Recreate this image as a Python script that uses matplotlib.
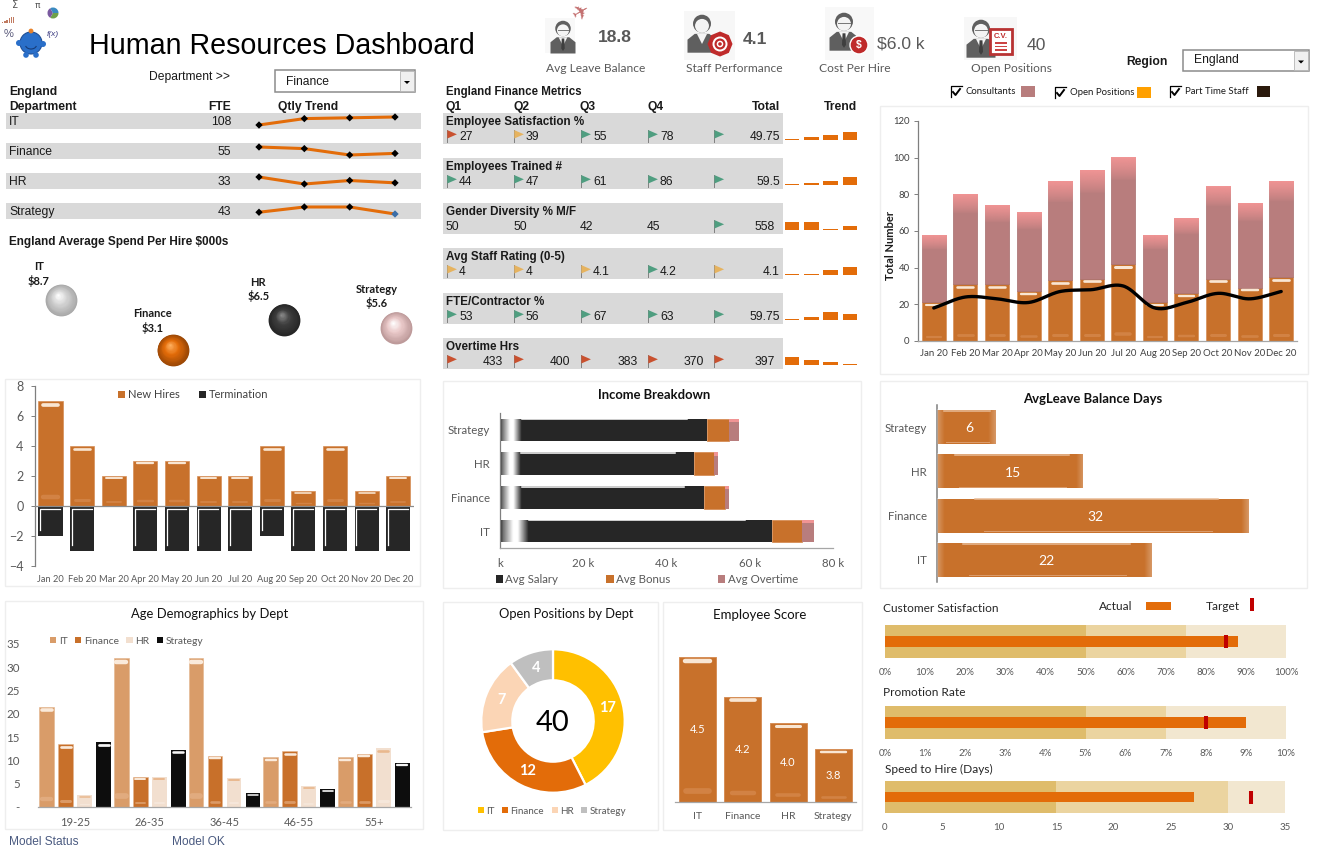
import numpy as np
import matplotlib
matplotlib.use("Agg")
import matplotlib.pyplot as plt
from matplotlib.patches import Rectangle, Circle, Polygon, Wedge, RegularPolygon, Arc
from matplotlib.transforms import Affine2D
from matplotlib.colors import to_rgb

# ---------------- data ----------------
months = ["Jan 20","Feb 20","Mar 20","Apr 20","May 20","Jun 20","Jul 20","Aug 20","Sep 20","Oct 20","Nov 20","Dec 20"]
open_positions = [21,31,31,27,33,34,42,21,26,34,29,35]
consultants = [37,49,43,43,54,59,58,37,41,50,46,52]
part_time = [18,24,23,21,27,28,30,18,21,26,23,27]
new_hires = [7,4,2,3,3,2,2,4,1,4,1,2]
terminations = [-2,-3,0,-3,-3,-3,-3,-2,-3,-3,-3,-3]

depts = ["IT","Finance","HR","Strategy"]
fte = [108,55,33,43]
qtly_trend = [[100,108,109,110],[60,58,50,52],[38,32,35,33],[42,45,45,41]]
spend = [8.7,3.1,6.5,5.6]

metric_names = ["Employee Satisfaction %","Employees Trained #","Gender Diversity % M/F","Avg Staff Rating (0-5)","FTE/Contractor %","Overtime Hrs"]
metric_q = [[27,39,55,78],[44,47,61,86],[50,50,42,45],[4,4,4.1,4.2],[53,56,67,63],[433,400,383,370]]
metric_total = ["49.75","59.5","558","4.1","59.75","397"]
metric_flags = ["RAGGG","GGGGG","....G","AAAGA","GGGGG","RRRRR"]

salary = [65.5,49,46.7,49.8]
bonus = [7,5,4.7,5.3]
overtime = [3.1,1,1,2.4]
leave_days = [22,32,15,6]
age_groups = ["19-25","26-35","36-45","46-55","55+"]
age_it = [21.5,32,32,10.7,10.7]
age_fin = [13.5,6.4,11,12,11.4]
age_hr = [2.5,6.5,6.2,4.5,12.7]
age_str = [14,12.3,3,3.9,9.5]
open_by_dept = [17,12,7,4]
score = [4.5,4.2,4.0,3.8]

bullet_titles = ["Customer Satisfaction","Promotion Rate","Speed to Hire (Days)"]
bullet_bands = [[50,75,100],[5,7,10],[15,30,35]]
bullet_actual = [88,9,27]
bullet_target = [85,8,32]

# ---------------- style ----------------
W, H = 1318, 848
SHEET = "Liberation Sans"
CHART = "Lato"
ORANGE = "#c8712b"
ORANGE_EDGE = "#d68e57"
ROSE = "#b87d7d"
DARK = "#262626"
GREY = "#595959"
BAND = "#d9d9d9"
PANEL = "#eeeeee"

fig = plt.figure(figsize=(W/100, H/100), dpi=100, facecolor="white")
ax0 = fig.add_axes([0,0,1,1], zorder=0)
ax0.set_xlim(0,W); ax0.set_ylim(H,0); ax0.axis("off")

def axpx(x0, y0, x1, y1):
    a = fig.add_axes([x0/W, 1-y1/H, (x1-x0)/W, (y1-y0)/H], zorder=2)
    a.patch.set_visible(False)
    return a

def T(x, y, s, size=8.7, ha="left", va="center", color="#1a1a1a", weight="normal", family=SHEET, **k):
    dy = 2 if family==SHEET else 1
    return ax0.text(x, y+dy, s, fontsize=size, ha=ha, va=va, color=color, fontweight=weight, family=family, **k)

def rect(x0,y0,x1,y1,fc="none",ec="none",lw=1,z=1):
    ax0.add_patch(Rectangle((x0,y0),x1-x0,y1-y0,fc=fc,ec=ec,lw=lw,zorder=z))

def clean(a, left=False, bottom=False):
    for s in ["top","right","left","bottom"]:
        a.spines[s].set_visible(False)
    if left:
        a.spines["left"].set_visible(True); a.spines["left"].set_color("#7f7f7f"); a.spines["left"].set_linewidth(0.9)
    if bottom:
        a.spines["bottom"].set_visible(True); a.spines["bottom"].set_color("#a6a6a6"); a.spines["bottom"].set_linewidth(0.9)

def mk_legend(a, colors, labels, x, y, size=8, spacing=1.0, color=GREY, pad=0.5):
    hs = [Rectangle((0,0),1,1,fc=c,ec="none") for c in colors]
    leg = a.legend(hs, labels, loc="center left", bbox_to_anchor=(x,y), bbox_transform=ax0.transData,
                   ncol=len(labels), frameon=False, borderpad=0, borderaxespad=0, handlelength=0.62,
                   handleheight=0.62, handletextpad=pad, columnspacing=spacing,
                   prop={"family":CHART,"size":size})
    for t in leg.get_texts():
        t.set_color(color)
    return leg

def vgloss(a, xs, tops, bottoms, w, px_per_unit, hi="#f9e6d3", lo="#d98f55"):
    """bevel highlights on upright bars, sized from each bar's height"""
    for x,t,b in zip(xs,tops,bottoms):
        hp = abs(t-b)*px_per_unit
        if hp < 3: continue
        off = (1.5+min(hp,140)/50)/px_per_unit
        lw = 0.9+min(hp,140)/60
        a.plot([x-w*0.33,x+w*0.33],[t-off,t-off],color=hi,lw=lw,solid_capstyle="round",zorder=5)
        off2 = (2+min(hp,140)/16)/px_per_unit
        a.plot([x-w*0.3,x+w*0.3],[b+off2,b+off2],color=lo,lw=0.6+min(hp,140)/40,alpha=.6,solid_capstyle="round",zorder=5)

def catmull(xs, ys, n=24):
    xs=np.array(xs,float); ys=np.array(ys,float)
    P=np.column_stack([xs,ys])
    P=np.vstack([2*P[0]-P[1],P,2*P[-1]-P[-2]])
    out=[]
    for i in range(1,len(P)-2):
        for t in np.linspace(0,1,n,endpoint=False):
            p=0.5*((2*P[i])+(-P[i-1]+P[i+1])*t+(2*P[i-1]-5*P[i]+4*P[i+1]-P[i+2])*t*t+(-P[i-1]+3*P[i]-3*P[i+1]+P[i+2])*t**3)
            out.append(p)
    out.append(P[-2])
    return np.array(out)

# ---------------- header ----------------
T(89,43.5,"Human Resources Dashboard",size=20.65,color="#000000")

# logo
ax0.add_patch(Circle((31,43),11,fc="#2a6fc9",ec="#1f4f96",lw=.8,zorder=2))
ax0.add_patch(Circle((31,31),2.4,fc="#e8822a",ec="none",zorder=2))
ax0.add_patch(Arc((31,45),11,8,theta1=10,theta2=170,color="#173c78",lw=.8,zorder=3))
for x,y in [(19,43),(43,44)]:
    ax0.add_patch(Circle((x,y),3,fc="#2a6fc9",ec="none",zorder=2))
for x in (26,36):
    ax0.add_patch(Circle((x,55),2.8,fc="#2a6fc9",ec="none",zorder=2))
T(15,4,"Σ",size=7,ha="center",color="#555555",family="DejaVu Sans")
T(37,4,"π",size=6.5,ha="center",color="#555555",family="DejaVu Sans")
T(9,32,"%",size=8,ha="center",color="#555577")
T(53,33,"f(x)",size=6,ha="center",color="#3a3a80",style="italic")
for i,(v,c) in enumerate(zip([120,120,120],["#6fa04a","#7a5aa0","#3a8ac0"])):
    ax0.add_patch(Wedge((53,13),5.5,i*120,i*120+v,fc=c,ec="none",zorder=2))
for i,h in enumerate([1,2,3,5,6,6]):
    rect(2+i*2.2,23-h,3.4+i*2.2,23,fc="#c07a60",z=2)

def person(cx, top, female=False, s=1.0):
    c = "#5f5f5f"
    ax0.add_patch(Polygon([(cx-10*s,top+26*s),(cx-10*s,top+17*s),(cx-5*s,top+13*s),(cx+5*s,top+13*s),(cx+10*s,top+17*s),(cx+10*s,top+26*s)],fc=c,ec="none",zorder=3))
    ax0.add_patch(Circle((cx,top+6*s),6.2*s,fc="#5f5f5f",ec="none",zorder=3))
    ax0.add_patch(Circle((cx,top+7.5*s),4.8*s,fc="#f4f4f4",ec="none",zorder=4))
    ax0.add_patch(Polygon([(cx-3.5*s,top+13*s),(cx+3.5*s,top+13*s),(cx,top+20*s)],fc="#f4f4f4",ec="none",zorder=4))
    if not female:
        ax0.add_patch(Polygon([(cx-1*s,top+14*s),(cx+1*s,top+14*s),(cx+1.4*s,top+22*s),(cx,top+24*s),(cx-1.4*s,top+22*s)],fc="#3f3f3f",ec="none",zorder=5))
        ax0.plot([cx-4*s,cx+4*s],[top+7*s,top+7*s],color="#777777",lw=.7,zorder=5)

RED = "#bf2a2a"
rect(545,18,575,53,fc="#f8f8f8"); person(563,21,s=1.25)
T(582,12,"✈",size=15,ha="center",color="#c47070",family="DejaVu Sans",rotation=30)
rect(684,11,735,60,fc="#f7f7f7"); person(702,15,female=True,s=1.45)
ax0.add_patch(RegularPolygon((720,44),8,radius=12.5,fc=RED,ec="none",zorder=6))
ax0.add_patch(Circle((720,44),7.5,fc="white",ec="none",zorder=7))
ax0.add_patch(Circle((720,44),5.5,fc=RED,ec="none",zorder=8))
ax0.add_patch(Circle((720,44),3.3,fc="white",ec="none",zorder=9))
ax0.add_patch(Circle((720,44),1.8,fc=RED,ec="none",zorder=10))
rect(825,7,874,60,fc="#f8f8f8"); person(844,13,s=1.45)
ax0.add_patch(Circle((859,45),9,fc=RED,ec="white",lw=1,zorder=6))
T(859,43,"$",size=7.5,ha="center",color="white",weight="bold",zorder=7)
rect(964,17,1017,60,fc="#f7f7f7"); person(981,20,s=1.45)
rect(990,29,1012,54,fc="white",ec="#b83232",lw=2,z=6)
T(1001,34,"C.V.",size=5.5,ha="center",color=RED,weight="bold",zorder=7)
for y in (43,46.5,50):
    rect(995,y-1,1007,y+.6,fc="#c44",z=7)

T(615,35,"18.8",size=12.6,ha="center",color=GREY,weight="bold")
T(754.5,37,"4.1",size=12.6,ha="center",color=GREY,weight="bold")
T(901,42,"$6.0 k",size=12.6,ha="center",color=GREY)
T(1036,43,"40",size=12.6,ha="center",color=GREY)
for x,s in [(596,"Avg Leave Balance"),(734,"Staff Performance"),(855,"Cost Per Hire"),(1011,"Open Positions")]:
    T(x,67,s,size=8.65,ha="center",color=GREY,family=CHART)

def dropdown(x0,y0,x1,y1,s,txt_x,txt_y):
    rect(x0,y0,x1,y1,fc="white",ec="#8c8c8c",lw=1.1)
    rect(x1-15,y0+1,x1-1,y1-1,fc="#f0f0f0",ec="#b5b5b5",lw=.6)
    ax0.add_patch(Polygon([(x1-11,y0+(y1-y0)/2),(x1-5,y0+(y1-y0)/2),(x1-8,y0+(y1-y0)/2+3)],fc="black",ec="none",zorder=3))
    T(txt_x,txt_y,s,size=8.7)

T(149,75,"Department >>",size=8.7)
dropdown(275,70,415,92,"Finance",286,80)
T(1126,60,"Region",size=8.7,weight="bold")
dropdown(1183,50,1309,71,"England",1194,57.5)

def check(x,y,label,tx,sw0,sw1,color):
    ax0.plot([x,x,x+11],[y+11,y,y],color="black",lw=.9)
    ax0.plot([x+2,x+4.5,x+9],[y+6,y+9,y+3],color="black",lw=1.4)
    T(tx,y+4.5,label,size=6.9,family=CHART,color="#1a1a1a")
    rect(sw0,y,sw1,y+11,fc=color)
check(951,86,"Consultants",966,1021,1035,ROSE)
check(1055,87,"Open Positions",1070,1137,1151,"#ffa000")
check(1170,86,"Part Time Staff",1185,1257,1270,"#2b1a0d")

# ---------------- department table ----------------
T(9,90,"England",weight="bold")
T(9,105,"Department",weight="bold")
T(231,105,"FTE",ha="right",weight="bold")
T(278,105,"Qtly Trend",weight="bold")
row_y = [113,143,173,203]
spark_span = [(117,125),(147,155),(177,184),(207,214)]
for y,d,f,v,(pt,pb) in zip(row_y,depts,fte,qtly_trend,spark_span):
    rect(6,y,421,y+16,fc=BAND)
    T(9,y+7,d); T(231,y+7,str(f),ha="right")
    a = axpx(259,pt,395,pb); a.axis("off")
    a.set_xlim(0,3); a.set_ylim(min(v),max(v))
    a.plot(range(4),v,color="#e36c09",lw=2.2,clip_on=False,zorder=2)
    cols = ["black"]*4
    if d=="Strategy": cols[-1]="#3a6ea8"
    a.scatter(range(4),v,s=14,c=cols,marker="D",clip_on=False,zorder=3,linewidths=0)

T(9,240,"England Average Spend Per Hire $000s",weight="bold",size=8.5)
ab = axpx(61,300,396,350); ab.axis("off")
ab.set_xlim(0,3); ab.set_ylim(3.1,8.7)
shades = [("#a8a8a8","#d4d4d4","#ffffff"),("#9a4705","#e36c09","#ffb060"),("#262626","#3f3f3f","#8a8a8a"),("#bd9a9a","#ebcaca","#ffffff")]
for i,(v,(c0,c1,c2)) in enumerate(zip(spend,shades)):
    N=26
    for k in range(N):
        t=k/(N-1)
        col = np.array(to_rgb(c0))*(1-t/.55)+np.array(to_rgb(c1))*(t/.55) if t<.55 else np.array(to_rgb(c1))*(1-(t-.55)/.45)+np.array(to_rgb(c2))*((t-.55)/.45)
        tr = ab.transData+Affine2D().translate(-3*t,5*t)
        ab.scatter([i],[v],s=525*(1-t*0.97)**2,color=[col],linewidths=0,clip_on=False,transform=tr,zorder=3+k)
    off=[(-22,26),(-20,29),(-26,30),(-19,31)][i]
    ab.annotate(f"{depts[i]}\n${v}",(i,v),xytext=off,textcoords="offset pixels",ha="center",va="center",
                fontsize=8,family=CHART,fontweight="bold",color="#1a1a1a",linespacing=1.25,annotation_clip=False,zorder=40)

# ---------------- metrics table ----------------
T(446,90,"England Finance Metrics",weight="bold",size=8.3)
for x,s in zip([446,513,580,647],["Q1","Q2","Q3","Q4"]):
    T(x,105,s,weight="bold")
T(780,105,"Total",ha="right",weight="bold")
T(857,105,"Trend",ha="right",weight="bold")
flag_col = {"R":"#c9512f","A":"#e6b35f","G":"#4f9e80"}
flag_x = [447.3,514.3,581.3,648.3,714.5]
val_x = [459,526,593,660]
right_x = [503,570,638,704]
for r,(name,qs,tot,fl) in enumerate(zip(metric_names,metric_q,metric_total,metric_flags)):
    y0 = 113+45*r
    rect(443,y0,783,y0+31,fc=BAND)
    T(446,y0+7,name,weight="bold",size=8.4)
    for j,q in enumerate(qs):
        s = str(q)
        if fl[j]==".":
            T(446+67*j,y0+22,s)
        elif name=="Overtime Hrs":
            T(right_x[j],y0+22,s,ha="right")
        else:
            T(val_x[j],y0+22,s)
    for j,f in enumerate(fl):
        if f==".": continue
        x=flag_x[j]; yc=y0+21.3
        ax0.plot([x-.7,x-.7],[yc-4,yc+7.2],color="#808080",lw=.7,zorder=3)
        ax0.add_patch(Polygon([(x,yc-4.2),(x+9.6,yc),(x,yc+4.2)],fc=flag_col[f],ec="none",zorder=3))
    T(780 if "." in tot else 775,y0+22,tot,ha="right")
    # column sparkline
    a = axpx(787,y0+18.7,855,y0+26.7); a.axis("off")
    vmin,vmax=min(qs),max(qs); floor = vmin-(vmax-vmin)/7
    a.set_xlim(-.27,3.27); a.set_ylim(floor,vmax)
    a.bar(range(4),np.array(qs)-floor,bottom=floor,width=.74,color="#e36c09",clip_on=False)

# ---------------- panels ----------------
for x0,y0,x1,y1 in [(880,106,1308,374),(5,379,420,586),(443,381,861,588),(880,381,1307,588),
                    (5,601,423,829),(443,602,658,830),(663,602,862,830)]:
    rect(x0,y0,x1,y1,fc="white",ec=PANEL,lw=1)

# ---------------- stacked monthly chart ----------------
a = axpx(918,121,1297,341); clean(a,left=True,bottom=True)
x = np.arange(12); w=.76
a.bar(x,open_positions,width=w,color=ORANGE,edgecolor=ORANGE_EDGE,lw=.5,zorder=2)
a.bar(x,consultants,bottom=open_positions,width=w,color=ROSE,edgecolor="#a56c6c",lw=.5,zorder=2)
totals = np.array(open_positions)+np.array(consultants)
pink = np.array(to_rgb("#f09494"))
for xi,t,c in zip(x,totals,consultants):
    g = np.zeros((30,1,4)); g[...,:3]=pink; g[:,0,3]=np.linspace(1,0,30)**.8
    a.imshow(g,extent=[xi-w/2,xi+w/2,t-c*.22,t],aspect="auto",zorder=3)
vgloss(a,x,open_positions,[0]*12,w,220/120)
cv = catmull(x,part_time)
a.plot(cv[:,0],cv[:,1],color="black",lw=2.4,zorder=6,solid_capstyle="round")
a.set_xlim(-.5,11.5); a.set_ylim(0,120)
a.set_yticks(range(0,121,20))
a.set_xticks(x); a.set_xticklabels(months)
a.tick_params(axis="y",length=3,width=.7,color="#7f7f7f",labelsize=6.9,labelcolor="#404040",pad=3)
a.tick_params(axis="x",length=0,labelsize=6.9,labelcolor="#404040",pad=6)
for l in a.get_xticklabels()+a.get_yticklabels(): l.set_family(CHART)
a.set_ylabel("Total Number",fontsize=8,family=CHART,fontweight="bold",color="#1a1a1a")
a.yaxis.set_label_coords((896-918)/379,(341-246)/220)

# ---------------- hires chart ----------------
a = axpx(34.7,386,414,566); clean(a,left=True)
a.bar(x,new_hires,width=w,color=ORANGE,edgecolor=ORANGE_EDGE,lw=.5,zorder=2)
a.bar(x,terminations,width=w,color=DARK,zorder=2)
vgloss(a,x,new_hires,[0]*12,w,15)
for xi,t in zip(x,terminations):
    if t==0: continue
    a.plot([xi-w/2+.06,xi-w/2+.06,xi+w/2-.08],[t+.4,-.22,-.22],color="white",lw=.9,zorder=4,solid_joinstyle="round")
a.axhline(0,color="#8c8c8c",lw=.9,zorder=5)
a.set_xlim(-.5,11.5); a.set_ylim(-4,8)
a.set_yticks(range(-4,9,2))
a.set_yticklabels(["\u2212"+str(-v) if v<0 else str(v) for v in range(-4,9,2)])
a.set_xticks(x); a.set_xticklabels(months)
a.tick_params(axis="y",length=3,width=.7,color="#7f7f7f",labelsize=9,labelcolor=GREY,pad=5)
a.tick_params(axis="x",length=0,labelsize=6.7,labelcolor=GREY,pad=6.5)
for l in a.get_xticklabels()+a.get_yticklabels(): l.set_family(CHART)
mk_legend(a,[ORANGE,DARK],["New Hires","Termination"],118,395,size=8,spacing=1.75,color="#404040",pad=.25)

# ---------------- income chart ----------------
a = axpx(500.3,413,832.7,548); clean(a,left=True,bottom=True)
y=np.arange(4); h=.66
a.barh(y,salary,height=h,color=DARK,zorder=2)
a.barh(y,bonus,left=salary,height=h,color=ORANGE,edgecolor=ORANGE_EDGE,lw=.6,zorder=2)
a.barh(y,overtime,left=np.array(salary)+np.array(bonus),height=h,color=ROSE,zorder=2)
left2 = np.array(salary)+np.array(bonus)
for yi,s,l2,o in zip(y,salary,left2,overtime):
    ramp = np.interp(np.linspace(0,1,40),[0,.1,.45,.62,1],[.0,.35,1,1,0])
    g=np.ones((1,40,4)); g[0,:,3]=ramp
    a.imshow(g,extent=[0,s*.105,yi-h/2,yi+h/2],aspect="auto",zorder=3)
    a.plot([s*.105,s*.9],[yi+h/2-.015]*2,color="#ffffff",lw=1.1,zorder=3)
    a.barh(yi+h/2-.045,o,left=l2,height=.09,color="#f09494",zorder=3)
a.set_xlim(0,80); a.set_ylim(-.5,3.5)
a.set_xticks([0,20,40,60,80]); a.set_xticklabels(["k","20 k","40 k","60 k","80 k"])
a.set_yticks(y); a.set_yticklabels(depts)
a.tick_params(axis="both",length=0,labelsize=8.3,labelcolor=GREY)
a.tick_params(axis="x",pad=7); a.tick_params(axis="y",pad=7.4)
for l in a.get_xticklabels()+a.get_yticklabels(): l.set_family(CHART)
T(654,394,"Income Breakdown",size=9.4,ha="center",weight="bold",family=CHART,color="#111111")
mk_legend(a,[DARK,ORANGE,ROSE],["Avg Salary","Avg Bonus","Avg Overtime"],496,579.5,size=8.3,spacing=4.17,pad=.2)

# ---------------- leave chart ----------------
a = axpx(937.3,405,1329,582); clean(a,left=True); a.spines["left"].set_linewidth(1.1)
h=.77
a.barh(y,leave_days,height=h,color=ORANGE,zorder=2)
for yi,v in zip(y,leave_days):
    g=np.zeros((1,20,4)); g[...,:3]=1; g[0,:,3]=np.linspace(.28,0,20)
    e=.8
    a.imshow(g,extent=[0,e,yi-h/2,yi+h/2],aspect="auto",zorder=3)
    a.imshow(g[:,::-1],extent=[v-e,v,yi-h/2,yi+h/2],aspect="auto",zorder=3)
    a.plot([v*.12,v*.9],[yi+h/2-.02]*2,color="#e8bb96",lw=1.1,zorder=4)
    a.plot([v*.15,v*.88],[yi-h/2+.04]*2,color="#e3b08a",lw=.7,alpha=.7,zorder=4)
    a.text(v/2+.25,yi-.03,str(v),color="white",fontsize=10,family=CHART,ha="center",va="center",zorder=6)
a.set_xlim(0,392/9.75); a.set_ylim(-.5,3.5)
a.set_xticks([]); a.set_yticks(y); a.set_yticklabels(depts)
a.tick_params(axis="y",length=0,labelsize=8.3,labelcolor=GREY,pad=7.4)
for l in a.get_yticklabels(): l.set_family(CHART)
T(1093,398,"AvgLeave Balance Days",size=9.45,ha="center",weight="bold",family=CHART,color="#111111")

# ---------------- age chart ----------------
a = axpx(38,644,411,807); clean(a,bottom=True)
g_x=np.arange(5); step=.2545; bw=.2
series=[(age_it,"#d99c69"),(age_fin,"#c8702a"),(age_hr,"#f2dfcf"),(age_str,"#0d0d0d")]
for i,(v,c) in enumerate(series):
    px=g_x+(i-1.5)*step
    a.bar(px,v,width=bw,color=c,zorder=2+i*0.01,edgecolor=("#e3b48d" if i<2 else None),lw=.4 if i<2 else 0)
    hi={"#0d0d0d":"#f5f5f5","#f2dfcf":"#e9b88e"}.get(c,"#faeadb")
    lo={"#0d0d0d":"#0d0d0d","#f2dfcf":"#f8ede3"}.get(c,"#e8b68e")
    vgloss(a,px,v,[0]*5,bw,163/35,hi=hi,lo=lo)
a.set_xlim(-.5,4.5); a.set_ylim(0,35)
a.set_yticks(range(0,36,5)); a.set_yticklabels(["-"]+[str(k) for k in range(5,36,5)])
a.set_xticks(g_x); a.set_xticklabels(age_groups)
a.tick_params(axis="y",length=0,labelsize=8.3,labelcolor=GREY,pad=13)
a.tick_params(axis="x",length=0,labelsize=8,labelcolor=GREY,pad=7)
for l in a.get_xticklabels()+a.get_yticklabels(): l.set_family(CHART)
T(210,612.5,"Age Demographics by Dept",size=9.35,ha="center",family=CHART,color="#111111")
mk_legend(a,[c for _,c in series],depts,50,641,size=7.4,spacing=.72,pad=.25)

# ---------------- donut ----------------
r=71.7
a = axpx(553-r,721-r,553+r,721+r); a.axis("off")
cols=["#ffc000","#e36c09","#fbd5b5","#bfbfbf"]
a.pie(open_by_dept,colors=cols,startangle=90,counterclock=False,radius=1,
      wedgeprops=dict(width=1-40.7/71.7,edgecolor="white",linewidth=1.6),
      autopct=lambda p:"%d"%round(p*sum(open_by_dept)/100),pctdistance=.78,
      textprops=dict(color="white",fontsize=10.5,fontweight="bold",family=CHART))
a.set_xlim(-1,1); a.set_ylim(-1,1)
a.text(0,-.03,"40",fontsize=21,family=CHART,ha="center",va="center",color="black")
T(566,613,"Open Positions by Dept",size=9.3,ha="center",family=CHART,color="#111111")
mk_legend(a,cols,depts,478,811,size=7.1,spacing=.78,pad=.2)

# ---------------- employee score ----------------
ppu=131.4
a = axpx(675,657,856,802); clean(a,bottom=True)
xs=np.arange(4); bw=.82
a.bar(xs,np.array(score)-3.4,bottom=3.4,width=bw,color=ORANGE,edgecolor=ORANGE_EDGE,lw=.7,zorder=2)
vgloss(a,xs,score,[3.4]*4,bw,ppu)
for xi,v in zip(xs,score):
    a.text(xi,(v+3.4)/2,f"{v:.1f}",color="white",fontsize=8,family=CHART,ha="center",va="center",zorder=6)
a.set_xlim(-.5,3.5); a.set_ylim(3.4,4.5)
a.set_yticks([]); a.set_xticks(xs); a.set_xticklabels(depts)
a.tick_params(axis="x",length=0,labelsize=7.5,labelcolor=GREY,pad=7)
for l in a.get_xticklabels(): l.set_family(CHART)
T(760,614,"Employee Score",size=9.5,ha="center",family=CHART,color="#111111")

# ---------------- bullets ----------------
bul=[(885,1286,625,658),(885,1286,706,739),(885,1285,781,813)]
fmts=[[f"{v}%" for v in range(0,101,10)],[f"{v}%" for v in range(0,11)],[str(v) for v in range(0,36,5)]]
ticks=[list(range(0,101,10)),list(range(0,11)),list(range(0,36,5))]
bt_xy=[(883,607),(883,692),(885,768)]
for i in range(3):
    x0,x1,y0,y1=bul[i]
    a=axpx(x0,y0,x1,y1); clean(a)
    bands=bullet_bands[i]
    a.barh([0],[bands[2]],height=1,color="#f2e7d0",zorder=1)
    a.barh([0],[bands[1]],height=1,color="#ebd4a0",zorder=2)
    a.barh([0],[bands[0]],height=1,color="#dfbc6b",zorder=3)
    a.barh([0],[bullet_actual[i]],height=1/3,color="#e36c09",zorder=4)
    a.vlines([bullet_target[i]],-.21,.21 if i<2 else .19,color="#c00000",lw=2.9,zorder=5)
    a.set_xlim(0,bands[2]); a.set_ylim(-.5,.5)
    a.set_yticks([]); a.set_xticks(ticks[i]); a.set_xticklabels(fmts[i])
    a.tick_params(axis="x",length=0,labelsize=7,labelcolor=GREY,pad=7)
    for l in a.get_xticklabels(): l.set_family(CHART)
    T(bt_xy[i][0],bt_xy[i][1],bullet_titles[i],size=8.6,family=CHART,color="#262626")
T(1099,606,"Actual",size=8.6,family=CHART,color="#262626")
rect(1146,602,1171,610,fc="#e36c09")
T(1206,605,"Target",size=8.6,family=CHART,color="#262626")
rect(1250,598,1254,611,fc="#c00000")

# ---------------- footer ----------------
T(9,840,"Model Status",size=8.6,color="#4a5a80")
T(172,840,"Model OK",size=8.6,color="#4a5a80")

fig.savefig("out.png",dpi=100,facecolor="white")
